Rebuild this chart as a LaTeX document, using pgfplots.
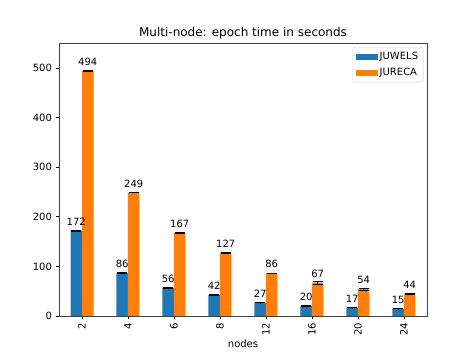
\documentclass[border=0pt]{standalone}
\usepackage{pgfplots}
\pgfplotsset{compat=1.18}
\usepackage{fontspec}
\setmainfont{DejaVu Sans}
\definecolor{c1}{HTML}{1F77B4}
\definecolor{c2}{HTML}{FF7F0E}
\begin{document}
\begin{tikzpicture}
\path[use as bounding box, fill=white] (0,0) rectangle (474pt,355pt);
\begin{axis}[
  at={(59pt,39pt)}, anchor=south west,
  scale only axis, width=368pt, height=273pt,
  ybar=0pt, bar width=0.25,
  xmin=-0.5, xmax=7.5, ymin=0, ymax=550,
  xtick={0,...,7}, xticklabels={2,4,6,8,12,16,20,24},
  ytick={0,100,200,300,400,500},
  x tick label style={rotate=90, anchor=east},
  tick align=outside, major tick length=3.5pt,
  tick style={black, line width=0.6pt},
  xtick pos=bottom, ytick pos=left,
  axis line style={line width=0.7pt, black!75},
  /pgf/number format/assume math mode=true,
  ticklabel style={font=\fontsize{10}{12}\selectfont},
  xlabel={nodes}, xlabel style={font=\fontsize{10}{12}\selectfont, yshift=3pt},
  title={Multi-node: epoch time in seconds},
  title style={font=\fontsize{12}{14}\selectfont, yshift=-6pt},
  legend style={at={(0.99,0.985)}, anchor=north east, draw=black!20, rounded corners=2pt,
    font=\fontsize{10}{13}\selectfont, inner sep=3pt, row sep=3pt},
  legend cell align=left,
  legend image code/.code={\fill[#1, sharp corners, draw=none] (0pt,-3pt) rectangle (22pt,3pt);},
  nodes near coords,
  every node near coord/.append style={font=\fontsize{10}{12}\selectfont, anchor=south, inner sep=1pt, yshift=4pt, black},
  error bars/y dir=both, error bars/y explicit,
  error bars/error bar style={black, line width=0.8pt},
  error bars/error mark options={rotate=90, mark size=5pt, line width=0.8pt, black},
]
\addplot[fill=c1, draw=none, bar shift=-0.125]
  coordinates {(0,172) +- (0,1) (1,86) +- (0,1) (2,56) +- (0,0.8) (3,42) +- (0,0.8) (4,27) +- (0,0.6) (5,20) +- (0,0.6) (6,17) +- (0,0.5) (7,15) +- (0,0.5)};
\addlegendentry{JUWELS}
\addplot[fill=c2, draw=none, bar shift=0.125]
  coordinates {(0,494) +- (0,1) (1,249) +- (0,1) (2,167) +- (0,1) (3,127) +- (0,0.8) (4,86) +- (0,0.8) (5,67) +- (0,3) (6,54) +- (0,1.5) (7,44) +- (0,0.8)};
\addlegendentry{JURECA}
\end{axis}
\end{tikzpicture}
\end{document}
